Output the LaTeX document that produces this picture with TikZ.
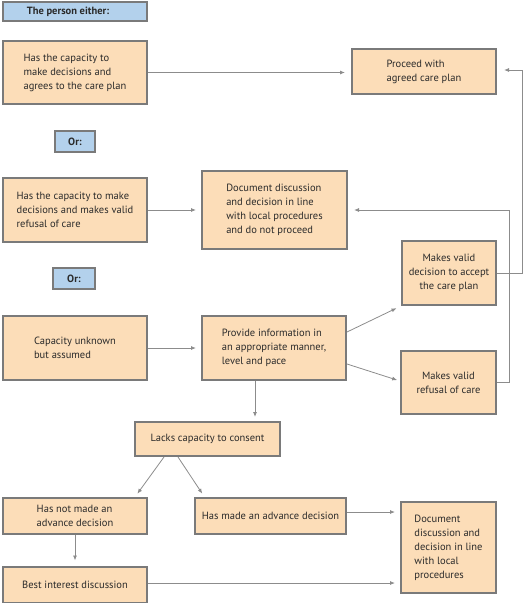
\documentclass[tikz,border=0pt]{standalone}
\usepackage{fontspec}
\setmainfont{PT Sans}
\usetikzlibrary{arrows.meta}
\definecolor{peach}{HTML}{FCDDB8}
\definecolor{blueb}{HTML}{B3D1EC}
\definecolor{bordg}{HTML}{7A7A7A}
\definecolor{lineg}{HTML}{8C8C8C}
\definecolor{txtg}{HTML}{2A2A2A}
\tikzset{
  box/.style={draw=bordg, line width=2pt, fill=peach, align=left, inner sep=0pt,
    text=txtg, font=\fontsize{10.5}{14}\selectfont},
  cbox/.style={box, align=center},
  hbox/.style={draw=bordg, line width=2pt, fill=blueb, inner sep=0pt,
    text=txtg, font=\fontsize{10.5}{14}\selectfont\bfseries},
  arr/.style={draw=lineg, line width=0.8pt, -{Latex[length=5pt,width=4pt]}},
}
\begin{document}
\begin{tikzpicture}[x=1pt,y=-1pt]
\useasboundingbox (0,0) rectangle (523,603);
% header boxes
\node[hbox, minimum width=144pt, minimum height=19pt] (top) at (75,11.5) {The person either:\hspace*{14pt}};
\node[hbox, minimum width=40pt, minimum height=21pt] (or1) at (75,141.5) {Or:};
\node[hbox, minimum width=42pt, minimum height=21pt] (or2) at (74,278.5) {Or:};
% boxes
\node[box, minimum width=144pt, minimum height=63pt] (a) at (75,72.5) {Has the capacity to\\make decisions and\\agrees to the care plan};
\node[box, minimum width=144pt, minimum height=64pt] (b) at (75,210) {Has the capacity to make\\decisions and makes valid\\refusal of care};
\node[box, minimum width=145pt, minimum height=78pt] (d) at (274.5,210) {Document discussion\\and decision in line\\with local procedures\\and do not proceed};
\node[box, minimum width=144pt, minimum height=45pt] (p) at (424,71.5) {Proceed with\\agreed care plan};
\node[cbox, minimum width=94pt, minimum height=64pt] (acc) at (449,273) {Makes valid\\decision to accept\\the care plan};
\node[cbox, minimum width=95pt, minimum height=63pt] (ref) at (448.5,382.5) {Makes valid\\refusal of care};
\node[box, minimum width=144pt, minimum height=64pt] (c) at (75,348) {Capacity unknown\\but assumed};
\node[box, minimum width=144pt, minimum height=64pt] (prov) at (274,348) {Provide information in\\an appropriate manner,\\level and pace};
\node[box, minimum width=145pt, minimum height=34pt] (lack) at (207.5,439) {Lacks capacity to consent};
\node[box, minimum width=144pt, minimum height=36pt] (hnm) at (75,516) {Has not made an\\advance decision};
\node[box, minimum width=151pt, minimum height=36pt] (hm) at (270.5,516) {Has made an advance decision};
\node[box, minimum width=144pt, minimum height=36pt] (bi) at (75,584.5) {Best interest discussion};
\node[box, minimum width=95pt, minimum height=91pt] (doc) at (448.5,547.5) {Document\\discussion and\\decision in line\\with local\\procedures};
% connectors
\draw[arr, shorten >=6pt] (a.east) -- (a.east -| p.west);
\draw[arr, shorten >=7pt] (acc.east) -- ++(25,0) |- ([yshift=1.5pt]p.east);
\draw[arr, shorten >=5pt] (b.east) -- (b.east -| d.west);
\draw[arr, shorten >=6pt] (ref.east) -- ++(12,0) |- (d.east);
\draw[arr, shorten >=5pt] (c.east) -- (c.east -| prov.west);
\draw[arr, shorten >=5pt] ([yshift=16pt]prov.east) -- (acc.south west);
\draw[arr, shorten >=3pt] ([yshift=-16pt]prov.east) -- ([yshift=1.5pt]ref.west);
\draw[arr, shorten >=4pt] ([xshift=-19pt]prov.south) -- ([xshift=-19pt]prov.south |- lack.north);
\draw[arr, shorten >=4pt] ([xshift=-43.5pt]lack.south) -- ([xshift=60pt]hnm.north);
\draw[arr, shorten >=4pt] ([xshift=-29.5pt]lack.south) -- ([xshift=-66pt]hm.north);
\draw[arr, shorten >=5pt] (hnm.south) -- (bi.north);
\draw[arr, shorten >=5pt] ([yshift=4pt]hm.east) -- ([yshift=4pt]hm.east -| doc.west);
\draw[arr, shorten >=5pt] ([yshift=1.5pt]bi.east) -- ([yshift=1.5pt]bi.east -| doc.west);
\end{tikzpicture}
\end{document}
